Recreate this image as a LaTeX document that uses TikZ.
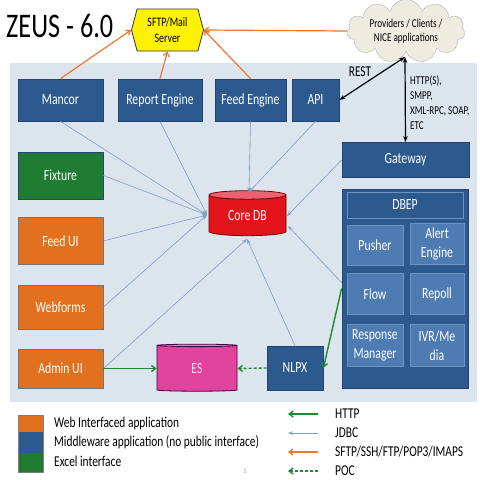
\documentclass[tikz,border=0pt]{standalone}
\usepackage{fontspec}
\setmainfont{Carlito}[FakeStretch=0.76]
\usetikzlibrary{shapes.geometric,shapes.symbols,arrows.meta}

\definecolor{panelbg}{HTML}{DCE4EE}
\definecolor{mwblue}{HTML}{2D5A8E}
\definecolor{mwline}{HTML}{22466F}
\definecolor{subblue}{HTML}{4E7BB2}
\definecolor{subline}{HTML}{6C93C2}
\definecolor{webor}{HTML}{E2711F}
\definecolor{xlgreen}{HTML}{1F7B31}
\definecolor{dbred}{HTML}{E3131B}
\definecolor{dbredtop}{HTML}{EC6272}
\definecolor{espink}{HTML}{E0449C}
\definecolor{espinktop}{HTML}{E887C4}
\definecolor{jdbc}{HTML}{7F9DC6}
\definecolor{sftp}{HTML}{EE7632}
\definecolor{httpg}{HTML}{1E8A31}
\definecolor{cloudbg}{HTML}{EEEBDF}

\tikzset{
  lbl/.style={font=\fontsize{15.5}{19}\selectfont, text=white, align=center, inner sep=0pt},
  mw/.style={lbl, draw=mwline, fill=mwblue, line width=0.8pt},
  web/.style={lbl, draw=black!55, fill=webor, line width=0.8pt},
  xl/.style={lbl, draw=mwline, fill=xlgreen, line width=0.8pt},
  sub/.style={lbl, draw=subline, fill=subblue, line width=0.6pt},
  db/.style={lbl, cylinder, shape border rotate=90, aspect=0.22, cylinder uses custom fill, line width=0.8pt},
  jdbcarrow/.style={jdbc, line width=0.6pt, -{Stealth[length=5pt,width=3.5pt]}},
  sftparrow/.style={sftp, line width=1.2pt, -{Straight Barb[length=4pt,width=6pt]}},
  httparrow/.style={httpg, line width=1.4pt, -{Straight Barb[length=4pt,width=6pt]}},
  pocarrow/.style={httparrow, dash pattern=on 3pt off 2pt},
  restarrow/.style={black, line width=1.2pt, {Stealth[length=6pt]}-{Stealth[length=6pt]}},
  legtext/.style={font=\fontsize{15}{19}\selectfont, anchor=west, inner sep=0pt}
}

\begin{document}
\begin{tikzpicture}[x=1pt, y=-1pt]
\useasboundingbox (0,0) rectangle (480,480);
\fill[panelbg] (10,63) rectangle (477,402);

\node[anchor=base west, inner sep=0pt, font=\fontsize{34.5}{40}\selectfont] (title) at (6,37) {ZEUS - 6.0};
\node[signal, signal to=west and east, signal pointer angle=150, draw=black!80, fill=yellow, line width=0.8pt,
      minimum width=72pt, minimum height=42pt, align=center, inner sep=0pt, font=\fontsize{13}{16}\selectfont]
      (sftpsrv) at (167.5,30) {SFTP/Mail\\Server};
\node[cloud, cloud puffs=11, aspect=2.4, draw=black!30, fill=cloudbg, minimum width=118pt, minimum height=46pt,
      align=center, inner sep=0pt, font=\fontsize{12}{14}\selectfont]
      (providers) at (406,31) {Providers / Clients /\\NICE applications};

\node[mw, minimum width=85pt, minimum height=42pt] (mancor) at (60.5,100) {Mancor};
\node[mw, minimum width=84pt, minimum height=42pt] (report) at (160,100) {Report Engine};
\node[mw, minimum width=71pt, minimum height=42pt] (feedeng) at (250.5,100) {Feed Engine};
\node[mw, minimum width=47pt, minimum height=42pt] (api) at (315.5,100) {API};
\node[xl, minimum width=85pt, minimum height=47pt] (fixture) at (60.5,175.5) {Fixture};
\node[web, minimum width=85pt, minimum height=47pt] (feedui) at (60.5,241) {Feed UI};
\node[web, minimum width=85pt, minimum height=44pt] (webforms) at (60.5,307) {Webforms};
\node[web, minimum width=85pt, minimum height=39pt] (adminui) at (60.5,368.5) {Admin UI};

\node[mw, minimum width=127pt, minimum height=35pt] (gateway) at (405.5,160) {Gateway};
\node[mw, minimum width=126pt, minimum height=199pt] (dbep) at (405,288.5) {};
\node[mw, draw=subline, minimum width=116pt, minimum height=26pt] (dbephead) at (405,205) {DBEP};
\node[sub, minimum width=56pt, minimum height=40pt] (pusher) at (375,245.5) {Pusher};
\node[sub, minimum width=54pt, minimum height=41pt] (alert) at (437,244) {Alert\\Engine};
\node[sub, minimum width=56pt, minimum height=41pt] (flow) at (375,294) {Flow};
\node[sub, minimum width=54pt, minimum height=41pt] (repoll) at (437,294) {Repoll};
\node[sub, minimum width=56pt, minimum height=42pt] (respmgr) at (375,345.5) {Response\\Manager};
\node[sub, minimum width=54pt, minimum height=42pt] (ivr) at (437,345.5) {IVR/Me\\dia};
\node[mw, minimum width=56pt, minimum height=44pt] (nlpx) at (295,368) {NLPX};

\node[db, cylinder body fill=dbred, cylinder end fill=dbredtop, draw=red!45!black,
      minimum width=77pt, minimum height=45pt] (coredb) at (247.5,215.5) {Core DB};
\node[db, cylinder body fill=espink, cylinder end fill=espinktop, draw=violet!55!black, text=pink!40,
      minimum width=80pt, minimum height=47pt] (es) at (197,368.5) {ES};

\coordinate (dbw) at (207,215);
\coordinate (dbn) at (249,192);
\coordinate (dbs) at (247,239);
\coordinate (dbe) at (287,216);
\coordinate (dbse) at (288,226);
\coordinate (cloudfoot) at (405,57);

\foreach \src in {mancor.south, report.south, fixture.east, feedui.east, webforms.east}
  \draw[jdbcarrow] (\src) -- (dbw);
\foreach \src in {feedeng.south, api.south}
  \draw[jdbcarrow] (\src) -- (dbn);
\foreach \src in {adminui.east, nlpx.north}
  \draw[jdbcarrow] (\src) -- (dbs);
\draw[jdbcarrow] (gateway.west) -- (dbe);
\draw[jdbcarrow] ([yshift=6pt]dbep.west) -- (dbse);

\draw[sftparrow] (mancor.north) -- (sftpsrv.west);
\draw[sftparrow] (report.north) -- (sftpsrv.south);
\draw[sftparrow] (feedeng.north) -- (sftpsrv.east);
\draw[sftparrow] (providers.west) -- (sftpsrv.east);

\draw[restarrow] (api.east) -- (cloudfoot);
\draw[restarrow] (gateway.north) -- (cloudfoot);
\node[font=\fontsize{15}{18}\selectfont, inner sep=0pt] (rest) at (360,72) {REST};
\node[anchor=north west, align=left, inner sep=0pt, font=\fontsize{12}{15}\selectfont]
      (protocols) at (410,76) {HTTP(S),\\SMPP,\\XML-RPC, SOAP,\\ETC};

\draw[httparrow] (adminui.east) -- (es.180);
\draw[pocarrow] (nlpx.west) -- (es.0);
\draw[httparrow] (dbep.west) -- (nlpx.east);

\fill[webor] (18,415) rectangle (43,432);
\fill[mwblue] (18,432) rectangle (43,453);
\fill[xlgreen] (18,453) rectangle (43,472);
\draw[black!50, line width=0.6pt] (18,415) rectangle (43,472);
\node[legtext] (legweb) at (54,423) {Web Interfaced application};
\node[legtext] (legmw) at (54,442) {Middleware application (no public interface)};
\node[legtext] (legxl) at (54,461) {Excel interface};

\foreach \name/\ypos/\sty/\txt in {lhttp/414/httparrow/HTTP, ljdbc/433/jdbcarrow/JDBC,
    lsftp/452/sftparrow/SFTP\slash SSH\slash FTP\slash POP3\slash IMAPS, lpoc/471/pocarrow/POC}{
  \node[legtext] (\name) at (335,\ypos) {\txt};
  \draw[\sty] ([xshift=-17pt]\name.west) -- ++(-30,0);
}
\node[text=black!50, inner sep=0pt, font=\fontsize{7}{8}\selectfont] (pagenum) at (245,471) {1};
\end{tikzpicture}
\end{document}
